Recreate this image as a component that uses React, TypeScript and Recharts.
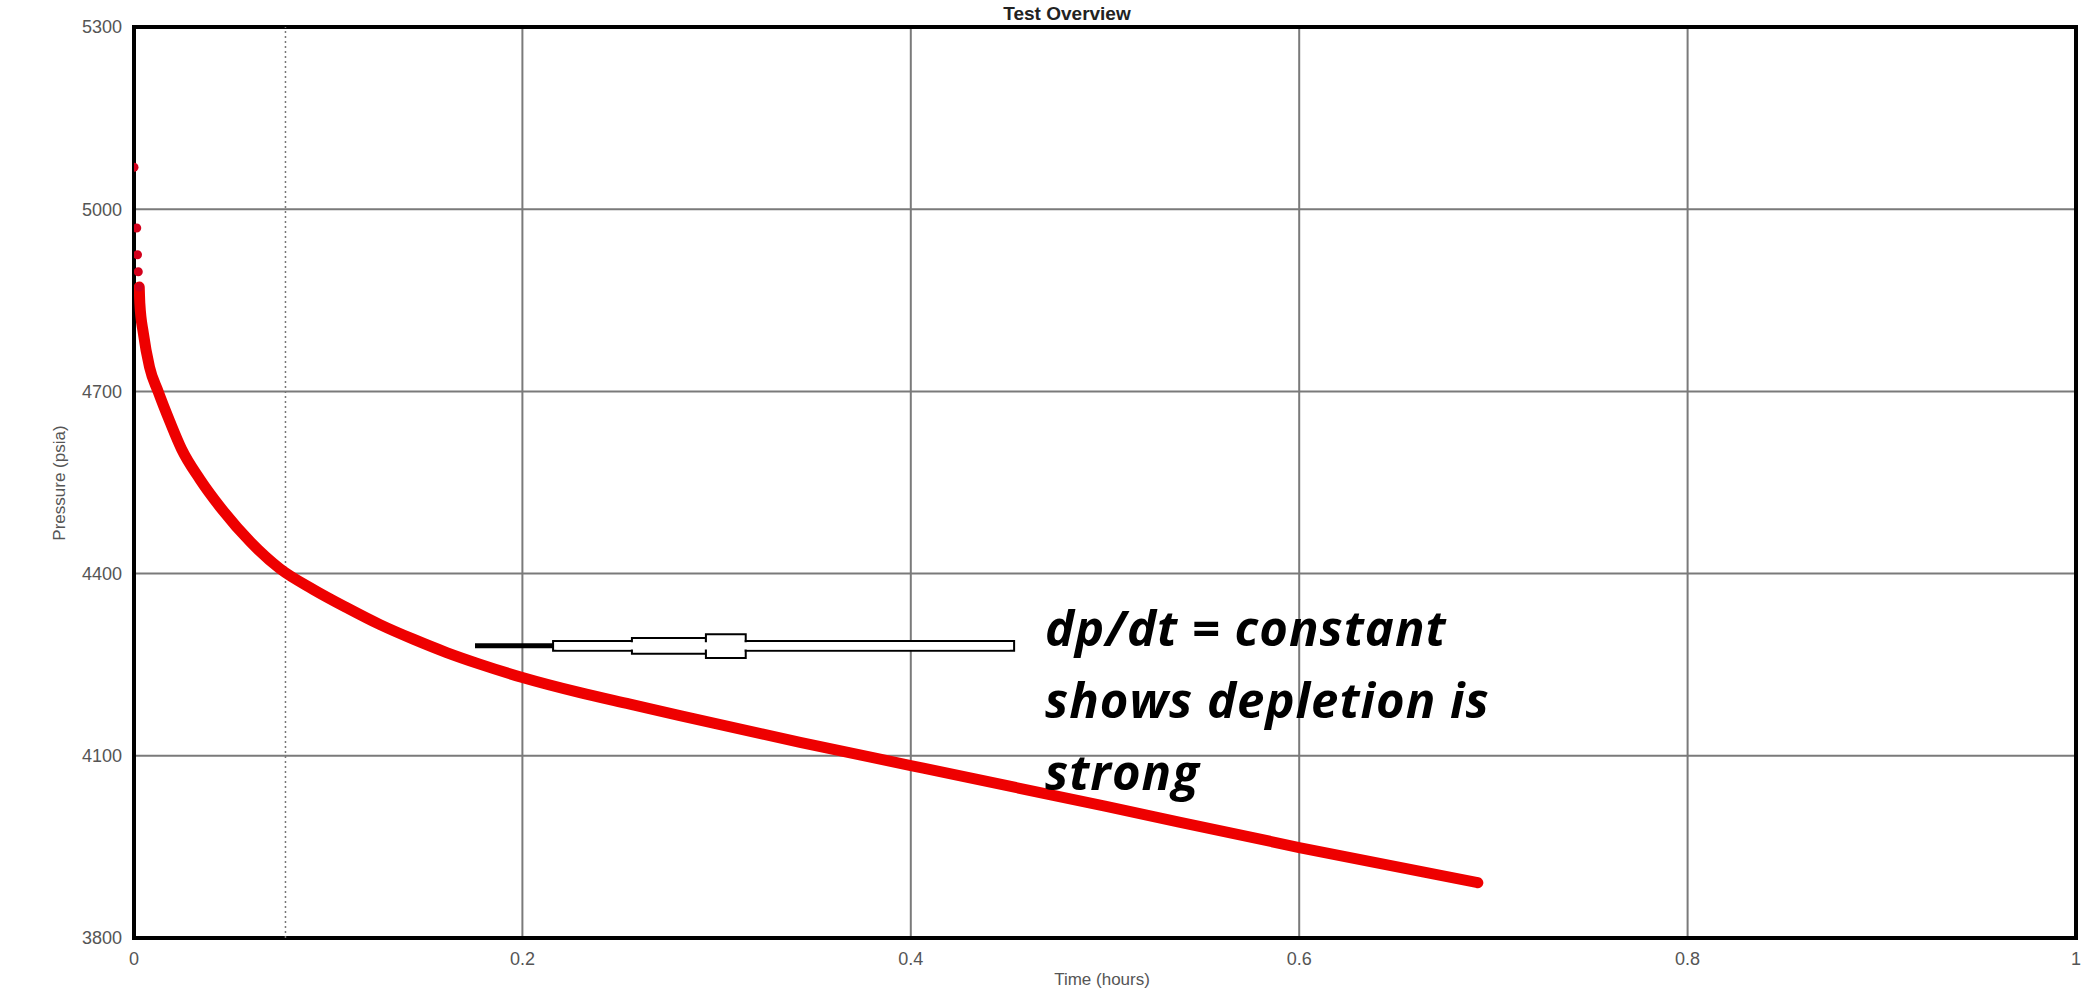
import {
  ComposedChart,
  CartesianGrid,
  Line,
  ReferenceArea,
  ReferenceLine,
  Scatter,
  XAxis,
  YAxis,
} from 'recharts'

// early scattered gauge points right after the start of the test
const earlyTime = [0, 0.0014, 0.0018, 0.0022, 0.0027]
const earlyPressure = [5069, 4969, 4925, 4897, 4872]

// continuous pressure record (hours, psia)
const curveTime = [
  0.0027, 0.003, 0.0048, 0.008, 0.0124, 0.0185, 0.0245, 0.034, 0.045, 0.06, 0.0752, 0.0923, 0.1095, 0.1267,
  0.1438, 0.161, 0.178, 0.2, 0.2297, 0.2554, 0.2811, 0.343, 0.4, 0.5, 0.6, 0.692,
]
const curvePressure = [
  4872, 4845, 4796, 4740, 4700, 4650, 4605, 4555, 4507, 4452, 4408, 4374, 4344, 4316,
  4292, 4270, 4251, 4229, 4204, 4185, 4166, 4122, 4084, 4017, 3949, 3891,
]

const xTicks = [0, 0.2, 0.4, 0.6, 0.8, 1]
const yTicks = [3800, 4100, 4400, 4700, 5000, 5300]
const markerTime = 0.078

// arrow pointing at the curve: stem then stepped shaft
const arrowStem = { x1: 0.1756, x2: 0.2158, y: 4281 }
const arrowPieces = [
  { x1: 0.2158, x2: 0.2564, y1: 4273, y2: 4289 },
  { x1: 0.2564, x2: 0.2945, y1: 4268, y2: 4294 },
  { x1: 0.2945, x2: 0.315, y1: 4261, y2: 4300 },
  { x1: 0.315, x2: 0.4532, y1: 4273, y2: 4289 },
]
const noteLines = ['dp/dt = constant', 'shows depletion is', 'strong']

const earlyRows = earlyTime.map((t, i) => ({ t, p: earlyPressure[i] }))
const curveRows = curveTime.map((t, i) => ({ t, p: curvePressure[i] }))

const tickStyle = { fontSize: 18, fill: '#555', fontFamily: 'Liberation Sans, Arial, sans-serif' }

export default function App() {
  return (
    <div style={{ position: 'relative', width: 2086, height: 1007, background: '#fff' }}>
      <style>{'body{margin:0}'}</style>
      <ComposedChart width={2086} height={1007} margin={{ top: 27, right: 10, bottom: 29, left: 34 }}>
        <CartesianGrid stroke="#7a7a7a" strokeWidth={2} />
        <XAxis
          type="number"
          dataKey="t"
          domain={[0, 1]}
          ticks={xTicks}
          height={40}
          axisLine={false}
          tickLine={false}
          tickSize={6}
          tickMargin={8}
          tick={tickStyle}
          allowDataOverflow
        />
        <YAxis
          type="number"
          dataKey="p"
          domain={[3800, 5300]}
          ticks={yTicks}
          width={100}
          axisLine={false}
          tickLine={false}
          tickSize={6}
          tickMargin={6}
          tick={tickStyle}
          allowDataOverflow
        />
        <ReferenceLine x={markerTime} stroke="#777" strokeWidth={1.5} strokeDasharray="2 3" />
        <Line
          data={curveRows}
          dataKey="p"
          type="monotone"
          stroke="#ee0000"
          strokeWidth={11}
          strokeLinecap="round"
          dot={false}
          isAnimationActive={false}
        />
        <Scatter data={earlyRows} dataKey="p" fill="#d2001c" isAnimationActive={false} />
        <ReferenceLine
          segment={[
            { x: arrowStem.x1, y: arrowStem.y },
            { x: arrowStem.x2, y: arrowStem.y },
          ]}
          stroke="#000"
          strokeWidth={5}
        />
        {arrowPieces.map((a, i) => (
          <ReferenceArea
            key={i}
            x1={a.x1}
            x2={a.x2}
            y1={a.y1}
            y2={a.y2}
            fill="#fff"
            fillOpacity={1}
            stroke="#000"
            strokeWidth={2}
          />
        ))}
        <ReferenceArea x1={0.2175} x2={0.451} y1={4275} y2={4287} fill="#fff" fillOpacity={1} stroke="none" />
        <ReferenceArea x1={0} x2={1} y1={3800} y2={5300} fill="none" stroke="#000" strokeWidth={4} />
      </ComposedChart>

      <div
        style={{
          position: 'absolute',
          left: 1067,
          top: 3,
          transform: 'translateX(-50%)',
          fontFamily: 'Liberation Sans, Arial, sans-serif',
          fontWeight: 'bold',
          fontSize: 19,
          color: '#222',
          whiteSpace: 'nowrap',
        }}
      >
        Test Overview
      </div>
      <div
        style={{
          position: 'absolute',
          left: 1102,
          top: 970,
          transform: 'translateX(-50%)',
          fontFamily: 'Liberation Sans, Arial, sans-serif',
          fontSize: 17,
          color: '#555',
          whiteSpace: 'nowrap',
        }}
      >
        Time (hours)
      </div>
      <div
        style={{
          position: 'absolute',
          left: 60,
          top: 483,
          transform: 'translate(-50%, -50%) rotate(-90deg)',
          fontFamily: 'Liberation Sans, Arial, sans-serif',
          fontSize: 17,
          color: '#555',
          whiteSpace: 'nowrap',
        }}
      >
        Pressure (psia)
      </div>
      <div
        style={{
          position: 'absolute',
          left: 1045,
          top: 591,
          fontFamily: 'Open Sans, sans-serif',
          fontWeight: 'bold',
          fontStyle: 'italic',
          fontSize: 49,
          letterSpacing: 1,
          lineHeight: '72px',
          color: '#000',
          whiteSpace: 'nowrap',
        }}
      >
        {noteLines.map((line) => (
          <div key={line}>{line}</div>
        ))}
      </div>
    </div>
  )
}
